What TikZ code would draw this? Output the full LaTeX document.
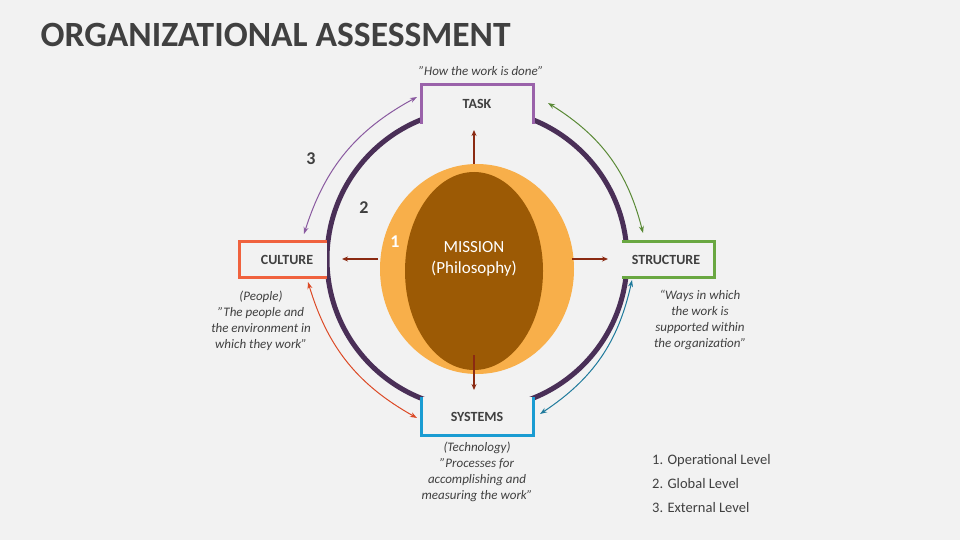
\documentclass[tikz,border=0pt]{standalone}
\usepackage{fontspec}
\setmainfont{Carlito}
\usetikzlibrary{arrows.meta}
\definecolor{bg}{HTML}{F2F2F2}
\definecolor{ring}{HTML}{4A2F57}
\definecolor{txt}{HTML}{404040}
\definecolor{org}{HTML}{F8AF4A}
\definecolor{brn}{HTML}{9C5A05}
\definecolor{red1}{HTML}{8B2A12}
\definecolor{cpur}{HTML}{9A62AA}
\definecolor{cgrn}{HTML}{6AA842}
\definecolor{cblu}{HTML}{1A9CD2}
\definecolor{corg}{HTML}{F0623E}
\definecolor{agrn}{HTML}{5A8A36}
\definecolor{ablu}{HTML}{1F7A9C}
\definecolor{ared}{HTML}{DC4A26}
\definecolor{apur}{HTML}{8A5AA0}
\tikzset{
 lbl/.style={font=\bfseries\fontsize{14}{16}\selectfont,text=txt},
 captxt/.style={font=\itshape\fontsize{13}{16}\selectfont,text=txt,align=center},
 spoke/.style={red1,line width=1.2pt,-{Stealth[length=6pt,width=5pt]}},
 link/.style={line width=1pt,{Stealth[length=7pt,width=5pt]}-{Stealth[length=7pt,width=5pt]}},
 boxl/.style={line width=3pt},
 num/.style={font=\bfseries\fontsize{18}{20}\selectfont,text=txt}
}
\begin{document}
\begin{tikzpicture}[x=1pt,y=-1pt]
\fill[bg] (0,0) rectangle (960,540);
\useasboundingbox (0,0) rectangle (960,540);
\node[anchor=west,font=\bfseries\fontsize{35.5}{40}\selectfont,text=txt] (title) at (37,35) {ORGANIZATIONAL ASSESSMENT};
% ring
\coordinate (c) at (477,259);
\draw[ring,line width=5pt] (c) circle[radius=150];
% boxes
\fill[bg] (421,85) rectangle (533,124);
\draw[cpur,boxl] (421,124) -- (421,85) -- (533,85) -- (533,124);
\node[lbl] (task) at (477,104) {TASK};
\fill[bg] (421,397) rectangle (533,435);
\draw[cblu,boxl] (421,397) -- (421,435) -- (533,435) -- (533,397);
\node[lbl] (sys) at (477,417) {SYSTEMS};
\fill[bg] (239,241) rectangle (327,277);
\draw[corg,boxl] (327,241) -- (239,241) -- (239,277) -- (327,277);
\node[lbl] (cult) at (287,260) {CULTURE};
\fill[bg] (622,241) rectangle (714,277);
\draw[cgrn,boxl] (622,241) -- (714,241) -- (714,277) -- (622,277);
\node[lbl] (str) at (666,260) {STRUCTURE};
% center
\fill[org] (477,269) ellipse[x radius=97,y radius=105];
\fill[brn] (474,271) ellipse[x radius=69,y radius=99];
\node[font=\fontsize{17}{21}\selectfont,text=white,align=center] (mis) at (474,259) {MISSION\\(Philosophy)};
\node[num,text=white] (n1) at (395,242) {1};
\node[num] (n2) at (364,208) {2};
\node[num] (n3) at (311,159) {3};
% spokes
\coordinate (s1) at (474,164); \coordinate (t1) at (474,130);
\draw[spoke] (s1) -- (t1);
\coordinate (s2) at (378,259); \coordinate (t2) at (342,259);
\draw[spoke] (s2) -- (t2);
\coordinate (s3) at (572,259); \coordinate (t3) at (608,259);
\draw[spoke] (s3) -- (t3);
\coordinate (s4) at (474,355); \coordinate (t4) at (474,390);
\draw[spoke] (s4) -- (t4);
% outer links
\coordinate (pa) at (304,234); \coordinate (pb) at (417,97);
\draw[link,apur] (pa) to[bend left=22] (pb);
\coordinate (ga) at (548,103); \coordinate (gb) at (643,233);
\draw[link,agrn] (ga) to[bend left=22] (gb);
\coordinate (ba) at (632,280); \coordinate (bb) at (540,414);
\draw[link,ablu] (ba) to[bend left=22] (bb);
\coordinate (ra) at (308,282); \coordinate (rb) at (417,418);
\draw[link,ared] (ra) to[bend right=22] (rb);
% captions
\node[captxt] (ctask) at (481,71) {"How the work is done"};
\node[captxt] (ccult) at (261,321) {(People)\\"The people and\\the environment in\\which they work"};
\node[captxt] (cstr) at (700,320) {“Ways in which\\the work is\\supported within\\the organization"};
\node[captxt] (csys) at (477,472) {(Technology)\\"Processes for\\accomplishing and\\measuring the work"};
\node[anchor=north west,font=\fontsize{14.5}{24}\selectfont,text=txt,align=left,inner sep=0pt] (legend) at (652,454) {1. Operational Level\\2. Global Level\\3. External Level};
\end{tikzpicture}
\end{document}
